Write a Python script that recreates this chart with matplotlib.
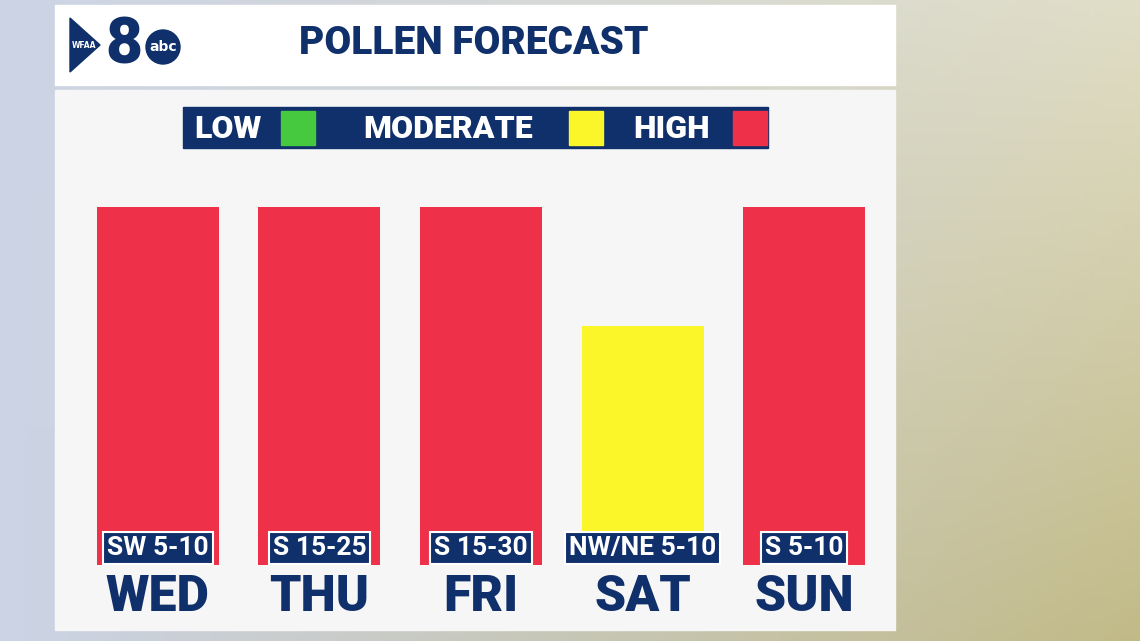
import numpy as np
import matplotlib.pyplot as plt
from matplotlib.patches import Rectangle, Polygon

# ---------------- data ----------------
days = ["WED", "THU", "FRI", "SAT", "SUN"]
winds = ["SW 5-10", "S 15-25", "S 15-30", "NW/NE 5-10", "S 5-10"]
levels = [3, 3, 3, 2, 3]          # 1=low, 2=moderate, 3=high
level_names = ["LOW", "MODERATE", "HIGH"]
level_colors = {1: "#46c93f", 2: "#fbf62a", 3: "#ee3148"}
NAVY = "#10306b"

W, H = 1140, 641
fig = plt.figure(figsize=(W / 100, H / 100), dpi=100)

# ---------------- background photo stand-in ----------------
bg = fig.add_axes([0, 0, 1, 1])
xx, yy = np.meshgrid(np.linspace(0, 1, 200), np.linspace(0, 1, 120))
r = 0.80 + 0.08 * xx - 0.12 * yy * xx
g = 0.83 + 0.04 * xx - 0.14 * yy * xx
b = 0.90 - 0.12 * xx - 0.25 * yy * xx
bg.imshow(np.dstack([r, g, b]).clip(0, 1), extent=[0, W, H, 0], aspect="auto")
bg.set_xlim(0, W); bg.set_ylim(H, 0); bg.axis("off")

# white panel
bg.add_patch(Rectangle((55, 5), 840, 80, color="white"))
bg.add_patch(Rectangle((55, 90), 840, 540, color="#f6f6f6"))

# logo & title
bg.add_patch(Polygon([(70, 18), (70, 72), (100, 45)], color=NAVY))
bg.text(84, 45, "WFAA", fontsize=5.5, fontweight="bold", color="white", ha="center", va="center")
bg.text(124, 45, "8", fontsize=46, fontweight="heavy", color=NAVY, ha="center", va="center",
        family="Roboto")
bg.add_patch(plt.Circle((163, 47), 17, color=NAVY))
bg.text(163, 47, "abc", fontsize=10, fontweight="bold", color="white", ha="center", va="center")
bg.text(474, 44, "POLLEN FORECAST", fontsize=28, fontweight="heavy", color=NAVY,
        ha="center", va="center", family="Roboto")

# legend bar
bg.add_patch(Rectangle((183, 107), 585, 41, color=NAVY))
leg_items = [(228, 298, 1), (448, 586, 2), (672, 750, 3)]
for (tx, sx, lv), name in zip(leg_items, level_names):
    bg.text(tx, 129, name, fontsize=23, fontweight="heavy", color="white",
            ha="center", va="center", family="Roboto")
    bg.add_patch(Rectangle((sx - 17, 111), 34, 34, color=level_colors[lv]))

# ---------------- bars ----------------
ax = fig.add_axes([77 / W, (H - 565) / H, 808 / W, (565 - 207) / H])
x = np.arange(len(days))
ax.bar(x, levels, width=0.755, color=[level_colors[v] for v in levels])
ax.set_xlim(-0.5, 4.5); ax.set_ylim(0, 3)
ax.axis("off")

for i, (d, w) in enumerate(zip(days, winds)):
    ax.text(i, 0.04, w, fontsize=19, fontweight="bold", color="white", ha="center",
            va="bottom", family="Roboto",
            bbox=dict(boxstyle="square,pad=0.15", fc=NAVY, ec="white", lw=1.5))
    ax.text(i, -0.27, d, fontsize=36, fontweight="heavy", color=NAVY, ha="center",
            va="center", family="Roboto", clip_on=False)

fig.savefig("out.png", dpi=100)
